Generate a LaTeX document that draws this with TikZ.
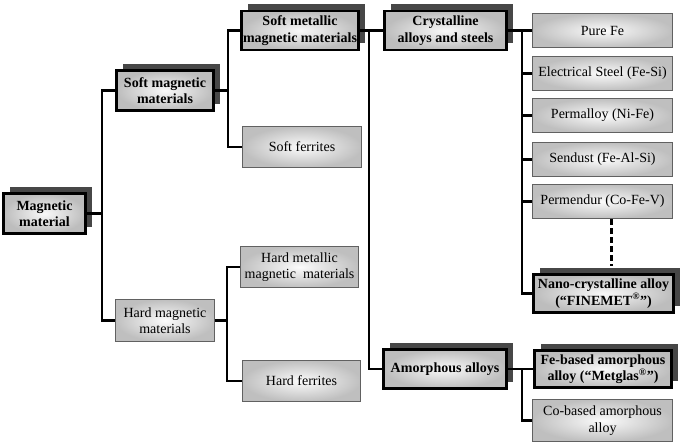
\documentclass[tikz,border=0pt]{standalone}
\usepackage{fontspec}
\setmainfont{Liberation Serif}
\usetikzlibrary{shadows}

\begin{document}
\begin{tikzpicture}[x=1pt,y=-1pt,
    box/.style={align=center, inner sep=1pt, font=\fontsize{14}{16.5}\selectfont,
      draw=black!62, line width=1pt, inner color=gray!3, outer color=gray!50},
    keybox/.style={box, draw=black, line width=2.6pt, font=\fontsize{14}{16.5}\selectfont\bfseries,
      inner color=gray!5, outer color=gray!52,
      general shadow={fill=black!72, shadow xshift=6pt, shadow yshift=7pt}},
    link/.style={line width=2.2pt, black}]
    \useasboundingbox (0,0) rectangle (685,445);

    \node[keybox, minimum width=82, minimum height=40] (mag) at (44.5,213.5) {Magnetic\\material};
    \node[keybox, minimum width=97, minimum height=40] (softmag) at (165,90.5) {Soft magnetic\\materials};
    \node[box, minimum width=99, minimum height=42] (hardmag) at (165,320.5) {Hard magnetic\\materials};

    \node[keybox, minimum width=117, minimum height=39] (softmet) at (300,30.5) {Soft metallic\\magnetic materials};
    \node[box, minimum width=119, minimum height=41] (softfer) at (302,147) {Soft ferrites};
    \node[box, minimum width=118, minimum height=41] (hardmet) at (299.5,267) {Hard metallic\\magnetic\ \ materials};
    \node[box, minimum width=118, minimum height=41] (hardfer) at (301.5,381) {Hard ferrites};

    \node[keybox, minimum width=122, minimum height=39] (cryst) at (445.5,30.5) {Crystalline\\alloys and steels};
    \node[keybox, minimum width=123, minimum height=39] (amor) at (445,369) {Amorphous alloys};

    \node[box, minimum width=140, minimum height=34] (purefe) at (602.5,30.5) {Pure Fe};
    \node[box, minimum width=140, minimum height=34] (elsteel) at (602.5,73.5) {Electrical\ Steel (Fe-Si)};
    \node[box, minimum width=140, minimum height=34] (permalloy) at (602.5,115.5) {Permalloy\ (Ni-Fe)};
    \node[box, minimum width=140, minimum height=34] (sendust) at (602.5,159.5) {Sendust (Fe-Al-Si)};
    \node[box, minimum width=140, minimum height=34] (permendur) at (602.5,201.5) {Permendur (Co-Fe-V)};
    \node[keybox, minimum width=140, minimum height=38] (nano) at (603.5,293.5) {Nano-crystalline alloy\\(``FINEMET\textsuperscript{\textregistered}'')};
    \node[keybox, minimum width=137, minimum height=37] (febased) at (603,369) {Fe-based amorphous\\alloy (``Metglas\textsuperscript{\textregistered}'')};
    \node[box, minimum width=140, minimum height=42] (cobased) at (602.5,420.5) {Co-based amorphous\\alloy};

    \coordinate (j1) at (102,213.5);
    \coordinate (j2) at (228,90.5);
    \coordinate (j3) at (227,320.5);
    \coordinate (j4) at (369,30.5);
    \coordinate (j5) at (522,30.5);
    \coordinate (j6) at (522,369);

    \draw[link] (mag.east) -- (j1) |- (softmag.west);
    \draw[link] (j1) |- (hardmag.west);
    \draw[link] (softmag.east) -- (j2) |- (softmet.west);
    \draw[link] (j2) |- (softfer.west);
    \draw[link] (hardmag.east) -- (j3) |- (hardmet.west);
    \draw[link] (j3) |- (hardfer.west);
    \draw[link] (softmet.east) -- (j4) -- (cryst.west);
    \draw[link] (j4) |- (amor.west);
    \draw[link] (cryst.east) -- (j5) -- (purefe.west);
    \foreach \n in {elsteel,permalloy,sendust,permendur,nano}
        \draw[link] (j5) |- (\n.west);
    \draw[link] (amor.east) -- (j6) -- (febased.west);
    \draw[link] (j6) |- (cobased.west);
    \draw[link, dash pattern=on 6pt off 3pt] ([xshift=9pt]permendur.south) -- ([xshift=8pt,yshift=7pt]nano.north);
\end{tikzpicture}
\end{document}
